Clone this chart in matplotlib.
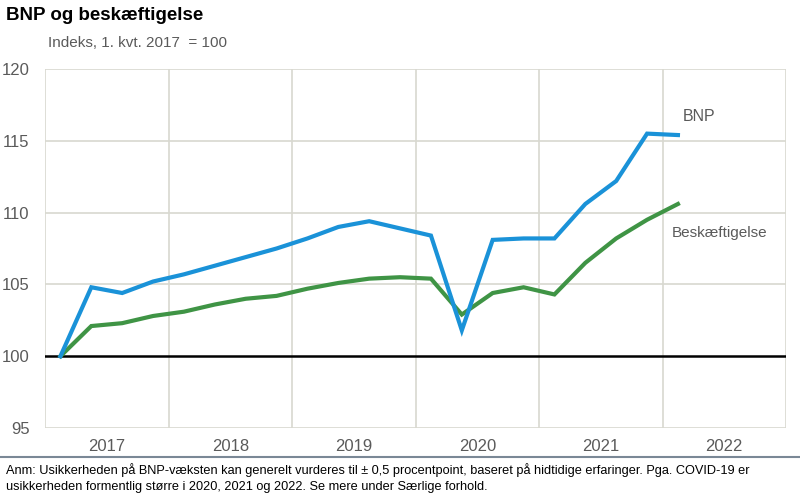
import numpy as np
import matplotlib
matplotlib.use('Agg')
import matplotlib.pyplot as plt
from matplotlib.lines import Line2D

plt.rcParams['font.family'] = ['Liberation Sans', 'DejaVu Sans']

# data: 1. kvt. 2017 .. 1. kvt. 2022
quarters = np.arange(21)
bnp = [100.0, 104.8, 104.4, 105.2, 105.7, 106.3, 106.9, 107.5, 108.2, 109.0, 109.4,
       108.9, 108.4, 101.8, 108.1, 108.2, 108.2, 110.6, 112.2, 115.5, 115.4]
beskaeft = [100.0, 102.1, 102.3, 102.8, 103.1, 103.6, 104.0, 104.2, 104.7, 105.1, 105.4,
            105.5, 105.4, 102.9, 104.4, 104.8, 104.3, 106.5, 108.2, 109.5, 110.6]
years = ['2017', '2018', '2019', '2020', '2021', '2022']
y_ticks = [95, 100, 105, 110, 115, 120]

grey_txt = '#5a5a5a'
grid_col = '#d8d8d0'

fig = plt.figure(figsize=(8, 4.96), dpi=100)
ax = fig.add_axes([45 / 800, 68 / 496, 741 / 800, 359 / 496])

# grid
for yv in y_ticks:
    if yv != 100:
        ax.axhline(yv, color=grid_col, lw=1.2, zorder=0)
for i in range(len(years) + 1):
    ax.axvline(-0.5 + 4 * i, color=grid_col, lw=1.2, zorder=0)
ax.axhline(100, color='black', lw=1.8, zorder=1)

ax.plot(quarters, bnp, color='#1a92d8', lw=3, zorder=3, solid_joinstyle='miter')
ax.plot(quarters, beskaeft, color='#3f9445', lw=3, zorder=2, solid_joinstyle='miter')

ax.text(20.15, 116.2, 'BNP', color=grey_txt, fontsize=11.5, ha='left', va='bottom')
ax.text(19.8, 108.6, 'Beskæftigelse', color=grey_txt, fontsize=11, ha='left', va='center')

ax.set_xlim(-0.5, 23.5)
ax.set_ylim(95, 120)
ax.set_yticks(y_ticks)
ax.set_yticklabels([str(v) for v in y_ticks])
ax.set_xticks([1.5 + 4 * i for i in range(len(years))])
ax.set_xticklabels(years)
ax.tick_params(axis='both', length=0, labelsize=12, colors=grey_txt)
ax.tick_params(axis='y', pad=11)
ax.tick_params(axis='x', pad=8)
for s in ax.spines.values():
    s.set_visible(False)

fig.text(6 / 800, 1 - 15 / 496, 'BNP og beskæftigelse', fontsize=13.5, fontweight='bold',
         va='center', ha='left')
fig.text(48 / 800, 1 - 43 / 496, 'Indeks, 1. kvt. 2017  = 100', fontsize=11, color=grey_txt,
         va='center', ha='left')

fig.add_artist(Line2D([0, 1], [1 - 457 / 496, 1 - 457 / 496], color='#7a8896', lw=1.5,
                      transform=fig.transFigure))
fig.text(6 / 800, 1 - 470 / 496, 'Anm: Usikkerheden på BNP-væksten kan generelt vurderes til ± 0,5 procentpoint, '
         'baseret på hidtidige erfaringer. Pga. COVID-19 er', fontsize=9.2, va='center', ha='left')
fig.text(6 / 800, 1 - 487 / 496, 'usikkerheden formentlig større i 2020, 2021 og 2022. Se mere under Særlige forhold.',
         fontsize=9.2, va='center', ha='left')

fig.savefig('out.png', dpi=100)
